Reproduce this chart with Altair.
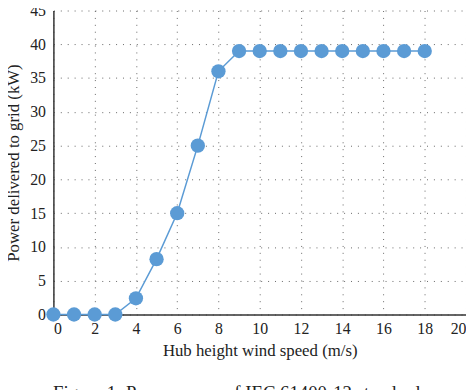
import altair as alt
import pandas as pd

wind_speed = [0, 1, 2, 3, 4, 5, 6, 7, 8, 9, 10, 11, 12, 13, 14, 15, 16, 17, 18]
power_kw = [0, 0, 0, 0, 2.4, 8.2, 15, 25, 36, 39, 39, 39, 39, 39, 39, 39, 39, 39, 39]
x_ticks = [0, 2, 4, 6, 8, 10, 12, 14, 16, 18, 20]
y_ticks = [0, 5, 10, 15, 20, 25, 30, 35, 40, 45]

df = pd.DataFrame({"speed": wind_speed, "power": power_kw})

FONT = "'Liberation Serif', serif"
BLUE = "#5b9bd5"

x = alt.X("speed:Q", scale=alt.Scale(domain=[0, 20], nice=False),
          axis=alt.Axis(values=x_ticks, title="Hub height wind speed (m/s)",
                        grid=True, gridDash=[1, 6], gridColor="#666", gridWidth=1,
                        domainColor="#333", domainWidth=1.5, ticks=False,
                        labelPadding=6, titlePadding=7))
y = alt.Y("power:Q", scale=alt.Scale(domain=[0, 45], nice=False),
          axis=alt.Axis(values=y_ticks, title="Power delivered to grid (kW)",
                        grid=True, gridDash=[1, 6], gridColor="#666", gridWidth=1,
                        domainColor="#333", domainWidth=1.5, ticks=False,
                        labelPadding=8, titlePadding=7))

line = alt.Chart(df).mark_line(color=BLUE, strokeWidth=1.5).encode(x=x, y=y)
pts = alt.Chart(df).mark_circle(color=BLUE, size=210, opacity=1).encode(x=x, y=y)

chart = (line + pts).properties(
    width=418, height=308,
    autosize=alt.AutoSizeParams(type="none"),
    padding={"left": 46, "top": 0, "right": 0, "bottom": 80},
    title=alt.TitleParams(
        "Figure 1: Power curve of IEC 61400-12 standard.",
        orient="bottom", anchor="middle", offset=36, dy=-10, dx=-21,
        font=FONT, fontSize=19, fontWeight="normal", color="#222",
    ),
).configure_view(stroke=None).configure_axis(
    labelFont=FONT, titleFont=FONT, labelFontSize=16, titleFontSize=17,
    labelColor="#222", titleColor="#222", titleFontWeight="normal",
)

chart.save("out.html", embed_options={"renderer": "svg", "actions": False})
